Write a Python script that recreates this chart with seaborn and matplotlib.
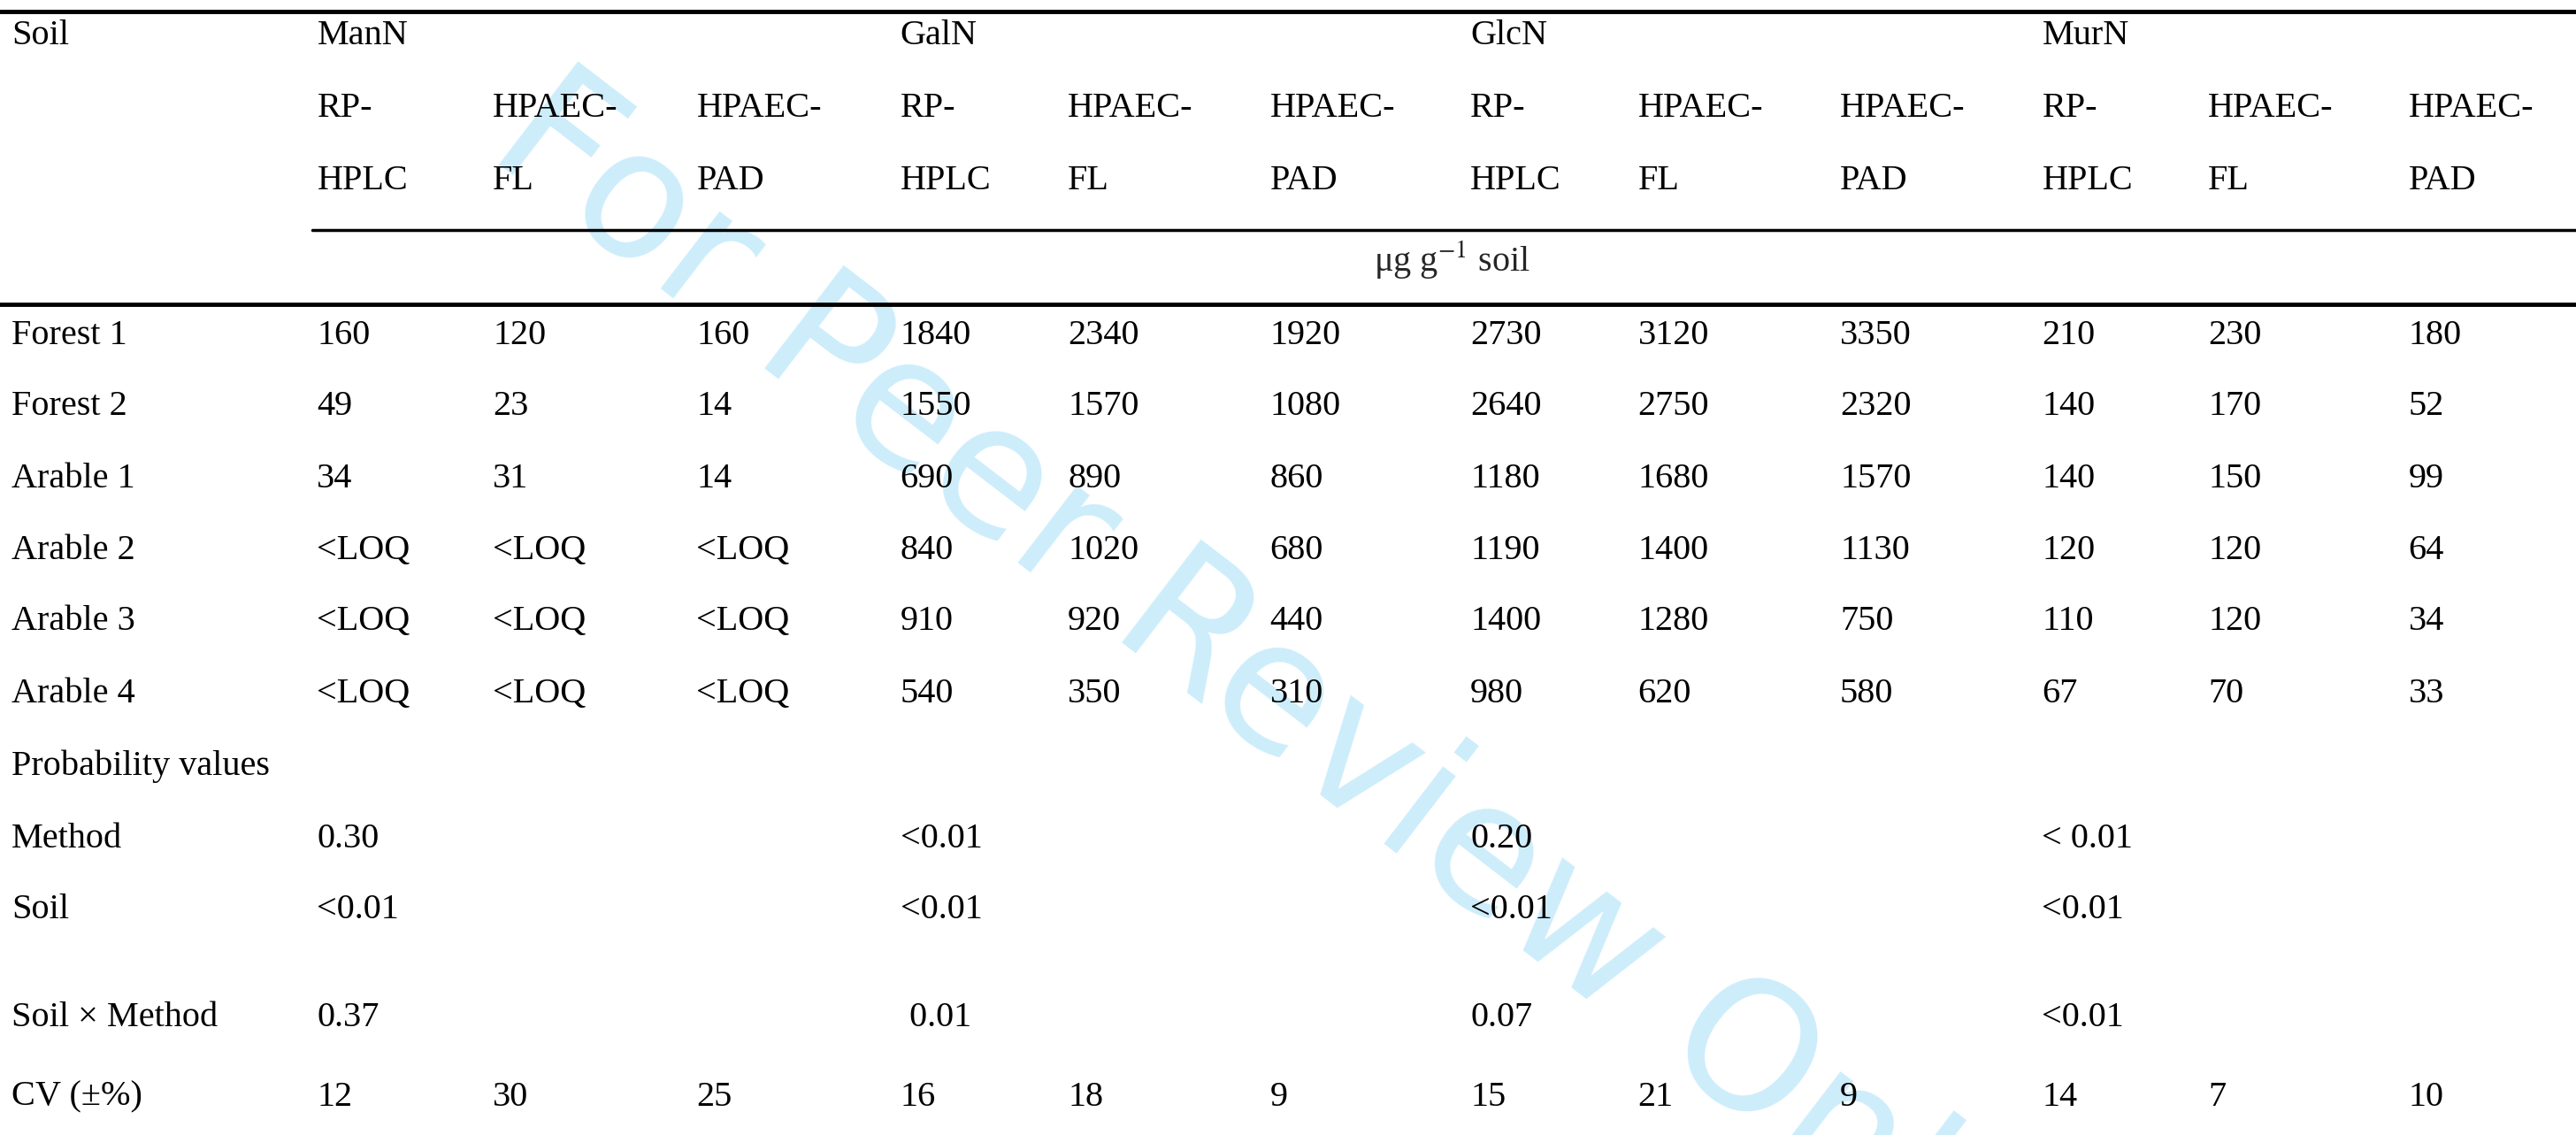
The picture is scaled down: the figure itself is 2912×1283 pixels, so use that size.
import matplotlib
matplotlib.use("Agg")
import matplotlib.pyplot as plt
import seaborn as sns

sns.set_theme(style="white")
plt.rcParams['font.family'] = ['Liberation Serif', 'DejaVu Serif']
plt.rcParams['mathtext.fontset'] = 'stix'

groups = ["ManN", "GalN", "GlcN", "MurN"]
methods_top = ["RP-", "HPAEC-", "HPAEC-"]
methods_bot = ["HPLC", "FL", "PAD"]
soils = ["Forest 1", "Forest 2", "Arable 1", "Arable 2", "Arable 3", "Arable 4"]
values = [
    ["160", "120", "160", "1840", "2340", "1920", "2730", "3120", "3350", "210", "230", "180"],
    ["49", "23", "14", "1550", "1570", "1080", "2640", "2750", "2320", "140", "170", "52"],
    ["34", "31", "14", "690", "890", "860", "1180", "1680", "1570", "140", "150", "99"],
    ["<LOQ", "<LOQ", "<LOQ", "840", "1020", "680", "1190", "1400", "1130", "120", "120", "64"],
    ["<LOQ", "<LOQ", "<LOQ", "910", "920", "440", "1400", "1280", "750", "110", "120", "34"],
    ["<LOQ", "<LOQ", "<LOQ", "540", "350", "310", "980", "620", "580", "67", "70", "33"],
]
prob_labels = ["Method", "Soil", "Soil \u00d7 Method"]
prob_values = [["0.30", "<0.01", "0.20", "< 0.01"],
               ["<0.01", "<0.01", "<0.01", "<0.01"],
               ["0.37", " 0.01", "0.07", "<0.01"]]
cv_values = ["12", "30", "25", "16", "18", "9", "15", "21", "9", "14", "7", "10"]

fig = plt.figure(figsize=(29.12, 12.83), dpi=100)
ax = fig.add_axes([0, 0, 1, 1])
ax.set_xlim(0, 1568)
ax.set_ylim(690, 0)
ax.axis("off")

# watermark
ax.text(345, 28, "For Peer Review Only", rotation=-37.5, rotation_mode="anchor",
        ha="left", va="top", fontsize=145, color="#9cdcf8", alpha=0.5,
        family="DejaVu Sans", zorder=0, clip_on=True)

fs = 29
colx = [193, 300, 424, 548, 650, 773, 895, 997, 1120, 1243, 1344, 1466]
def t(x, y, s):
    ax.text(x, y, s, fontsize=fs, ha="left", va="center", color="black", zorder=2)

t(7, 22, "Soil")
for i, g in enumerate(groups):
    t(colx[3 * i], 22, g)
for i, x in enumerate(colx):
    t(x, 66, methods_top[i % 3])
    t(x, 110, methods_bot[i % 3])
ax.text(884, 158, r"μg g$^{-1}$ soil", fontsize=fs, ha="center", va="center")

rows_y = [204, 247, 291, 335, 378, 422]
for s, vals, y in zip(soils, values, rows_y):
    t(7, y, s)
    for x, v in zip(colx, vals):
        t(x, y, v)
t(7, 466, "Probability values")
for lab, vals, y in zip(prob_labels, prob_values, [510, 553, 619]):
    t(7, y, lab)
    for i, v in enumerate(vals):
        t(colx[3 * i], y, v)
t(7, 667, "CV (\u00b1%)")
for x, v in zip(colx, cv_values):
    t(x, 667, v)

ax.plot([0, 1568], [7, 7], color="black", lw=3.5)
ax.plot([190, 1568], [140, 140], color="black", lw=2.5)
ax.plot([0, 1568], [185, 185], color="black", lw=3.5)

fig.savefig("out.png", dpi=100)
